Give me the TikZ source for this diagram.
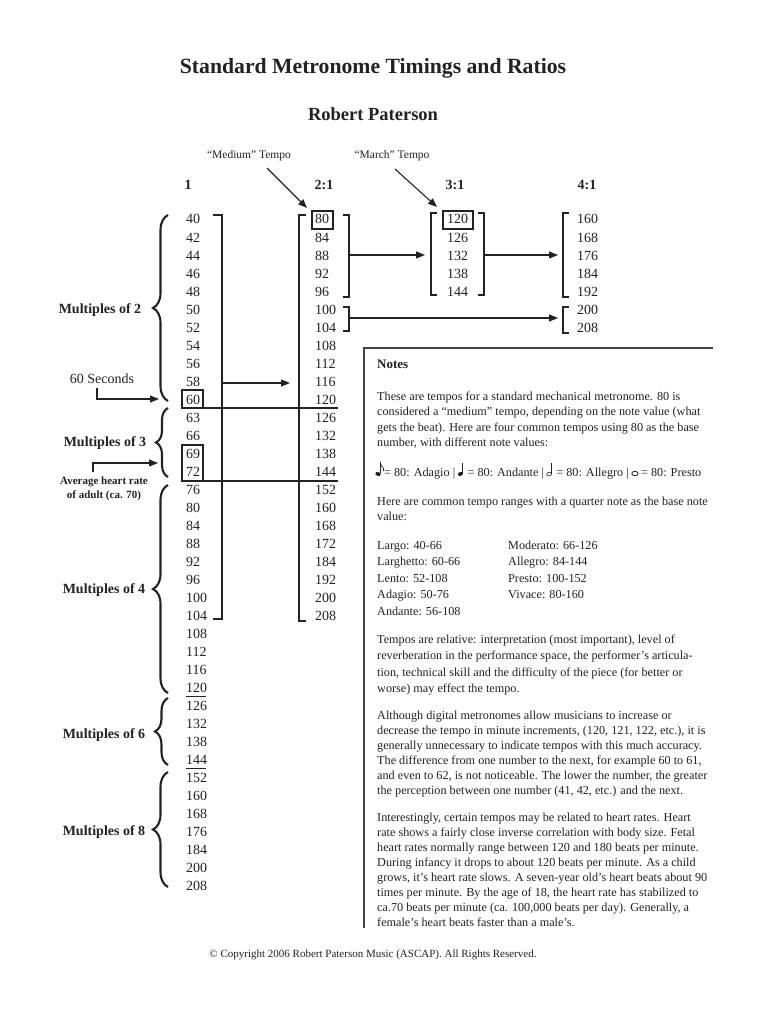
\documentclass[tikz,border=0pt]{standalone}
\usepackage{fontspec}
\setmainfont{Liberation Serif}
\usetikzlibrary{arrows.meta,decorations.pathreplacing}
\definecolor{ink}{HTML}{222222}
\definecolor{boxgray}{HTML}{444444}
\begin{document}
\begin{tikzpicture}[x=1pt,y=-1pt,
  every node/.style={inner sep=0pt,text=ink},
  num/.style={font=\fontsize{14}{16}\selectfont,anchor=base west},
  hdr/.style={font=\bfseries\fontsize{14}{16}\selectfont,anchor=base},
  lab/.style={font=\bfseries\fontsize{14}{16}\selectfont,anchor=base},
  brk/.style={line width=1.2pt,draw=ink},
  sep/.style={line width=1.4pt,draw=ink},
  hbox/.style={line width=1.2pt,draw=ink},
  arr/.style={line width=1.1pt,draw=ink,-{Triangle[length=9pt,width=7pt]}},
  brc/.style={decorate,decoration={brace,amplitude=15pt},line width=2.1pt,draw=ink},
  notes/.style={font=\fontsize{12.2}{15.5}\selectfont,anchor=base west},
]
\useasboundingbox[fill=white] (0,0) rectangle (768,1024);

% title
\node[anchor=base,font=\bfseries\fontsize{21.7}{24}\selectfont] (title) at (373,74) {Standard Metronome Timings and Ratios};
\node[anchor=base,font=\bfseries\fontsize{18.5}{21}\selectfont] (author) at (373,121) {Robert Paterson};

% tempo labels
\node[anchor=base,font=\fontsize{11.5}{13}\selectfont] (medium) at (249,159) {“Medium” Tempo};
\node[anchor=base,font=\fontsize{11.5}{13}\selectfont] (march) at (392,159) {“March” Tempo};

% headers
\node[hdr] (h1) at (188,190) {1};
\node[hdr] (h2) at (324,190) {2:1};
\node[hdr] (h3) at (455,190) {3:1};
\node[hdr] (h4) at (587,190) {4:1};

% column 1
\foreach \v [count=\i from 0] in {40,42,44,46,48,50,52,54,56,58,60,63,66,69,72,76,80,84,88,92,96,100,104,108,112,116,120,126,132,138,144,152,160,168,176,184,200,208}
  \node[num] (ca\i) at (186,224+18*\i) {\v};
% column 2
\foreach \v [count=\i from 0] in {80,84,88,92,96,100,104,108,112,116,120,126,132,138,144,152,160,168,172,184,192,200,208}
  \node[num] (cb\i) at (315,224+18*\i) {\v};
% column 3
\foreach \v [count=\i from 0] in {120,126,132,138,144}
  \node[num] (cc\i) at (447,224+18*\i) {\v};
% column 4
\foreach \v [count=\i from 0] in {160,168,176,184,192,200,208}
  \node[num] (cd\i) at (577,224+18*\i) {\v};

% boxes
\draw[hbox] (182,390) rectangle (203,408);
\draw[hbox] (182,445) rectangle (203,481);
\draw[hbox] (312,211) rectangle (333,229);
\draw[hbox] (443,211) rectangle (473,229);

% separator lines
\draw[sep] (182,408) -- (338,408);
\draw[sep] (182,481) -- (338,481);
\draw[line width=0.8pt,draw=ink] (186,696) -- (206,696);
\draw[line width=0.8pt,draw=ink] (186,768) -- (206,768);

% brackets
\draw[brk] (213,215) -- (222,215) -- (222,619) -- (213,619);
\draw[brk] (306,215) -- (299,215) -- (299,621) -- (306,621);
\draw[brk] (343,215) -- (349,215) -- (349,297) -- (343,297);
\draw[brk] (343,307) -- (349,307) -- (349,331) -- (343,331);
\draw[brk] (437,213) -- (431,213) -- (431,295) -- (437,295);
\draw[brk] (478,213) -- (484,213) -- (484,295) -- (478,295);
\draw[brk] (569,213) -- (563,213) -- (563,297) -- (569,297);
\draw[brk] (569,307) -- (563,307) -- (563,333) -- (569,333);

% bracket anchor coordinates
\coordinate (b2a) at (349,255);
\coordinate (b3l) at (425,255);
\coordinate (b3r) at (484,255);
\coordinate (b4a) at (558,255);
\coordinate (b2b) at (349,318);
\coordinate (b4b) at (558,318);
\coordinate (b1) at (222,383);
\coordinate (b2l) at (290,383);

\draw[arr] (b2a) -- (b3l);
\draw[arr] (b3r) -- (b4a);
\draw[arr] (b2b) -- (b4b);
\draw[arr] (b1) -- (b2l);

% pointer arrows
\coordinate (medtail) at (267,168);
\coordinate (medtip) at (307,208);
\coordinate (martail) at (395,169);
\coordinate (martip) at (437,207);
\draw[arr] (medtail) -- (medtip);
\draw[arr] (martail) -- (martip);

% braces
\draw[brc] (168,401) -- (168,215);
\draw[brc,decoration={brace,amplitude=12pt}] (168,477) -- (168,408);
\draw[brc] (168,693) -- (168,485);
\draw[brc,decoration={brace,amplitude=13pt}] (168,765) -- (168,698);
\draw[brc] (168,887) -- (168,772);

% left labels
\node[lab] (m2) at (100,313) {Multiples of 2};
\node[lab] (m3) at (105,446) {Multiples of 3};
\node[lab] (m4) at (104,593) {Multiples of 4};
\node[lab] (m6) at (104,738) {Multiples of 6};
\node[lab] (m8) at (104,835) {Multiples of 8};

\node[anchor=base,font=\fontsize{14}{16}\selectfont] (sixty) at (102,383) {60 Seconds};
\coordinate (sixtytail) at (97,388);
\coordinate (sixtytip) at (159,399);
\draw[arr] (sixtytail) |- (sixtytip);

\node[anchor=base,font=\bfseries\fontsize{11}{14}\selectfont] (avg) at (104,484) {Average heart rate};
\node[anchor=base,font=\bfseries\fontsize{11}{14}\selectfont] (avg2) at (104,498) {of adult (ca. 70)};
\coordinate (avgtail) at (93,472);
\coordinate (avgtip) at (158,463);
\draw[arr] (avgtail) |- (avgtip);

% notes box
\draw[line width=1.5pt,draw=boxgray] (713,348) -- (364,348) -- (364,928);
\node[anchor=base west,font=\bfseries\fontsize{13}{15}\selectfont] (notestitle) at (377,368) {Notes};

\node[notes] (p1) at (377,400) {\parbox[t]{360pt}{These are tempos for a standard mechanical metronome. 80 is\\
considered a “medium” tempo, depending on the note value (what\\
gets the beat). Here are four common tempos using 80 as the base\\
number, with different note values:}};

% note values line
\node[notes] (q1) at (384,476) {= 80: Adagio |};
\node[notes] (q2) at ([xshift=12pt]q1.base east) {= 80: Andante |};
\node[notes] (q3) at ([xshift=12pt]q2.base east) {= 80: Allegro |};
\node[notes] (q4) at ([xshift=12pt]q3.base east) {= 80: Presto};
% eighth note
\fill[ink,rotate around={-20:(378,474)}] (378,474) ellipse (2.7 and 1.9);
\draw[ink,line width=0.7pt] (380.4,473.5) -- (380.4,463) .. controls (381,467) and (384.5,467) .. (383.5,471);
% quarter note
\coordinate (qh) at ([xshift=5pt,yshift=2pt]q1.base east);
\fill[ink,rotate around={20:(qh)}] (qh) ellipse (2.7pt and 1.9pt);
\draw[ink,line width=0.7pt] ([xshift=2.4pt,yshift=0.5pt]qh) -- ([xshift=2.4pt,yshift=11pt]qh);
% half note
\coordinate (hh) at ([xshift=5pt,yshift=2pt]q2.base east);
\draw[ink,line width=0.6pt,rotate around={20:(hh)}] (hh) ellipse (2.6pt and 1.8pt);
\draw[ink,line width=0.7pt] ([xshift=2.4pt,yshift=0.5pt]hh) -- ([xshift=2.4pt,yshift=11pt]hh);
% whole note
\coordinate (wh) at ([xshift=6pt,yshift=2.5pt]q3.base east);
\draw[ink,line width=0.8pt] (wh) ellipse (3.2pt and 2.2pt);

\node[notes] (p2) at (377,505) {\parbox[t]{360pt}{Here are common tempo ranges with a quarter note as the base note\\
value:}};

\node[notes,font=\fontsize{12.2}{16.5}\selectfont] (p3a) at (377,549) {\parbox[t]{130pt}{Largo: 40-66\\ Larghetto: 60-66\\ Lento: 52-108\\ Adagio: 50-76\\ Andante: 56-108}};
\node[notes,font=\fontsize{12.2}{16.5}\selectfont] (p3b) at (508,549) {\parbox[t]{130pt}{Moderato: 66-126\\ Allegro: 84-144\\ Presto: 100-152\\ Vivace: 80-160}};

\node[notes,font=\fontsize{12.2}{16.5}\selectfont] (p4) at (377,643) {\parbox[t]{360pt}{Tempos are relative: interpretation (most important), level of\\
reverberation in the performance space, the performer’s articula-\\
tion, technical skill and the difficulty of the piece (for better or\\
worse) may effect the tempo.}};

\node[notes,font=\fontsize{12.2}{15}\selectfont] (p5) at (377,719) {\parbox[t]{360pt}{Although digital metronomes allow musicians to increase or\\
decrease the tempo in minute increments, (120, 121, 122, etc.), it is\\
generally unnecessary to indicate tempos with this much accuracy.\\
The difference from one number to the next, for example 60 to 61,\\
and even to 62, is not noticeable. The lower the number, the greater\\
the perception between one number (41, 42, etc.) and the next.}};

\node[notes,font=\fontsize{12.2}{15}\selectfont] (p6) at (377,821) {\parbox[t]{360pt}{Interestingly, certain tempos may be related to heart rates. Heart\\
rate shows a fairly close inverse correlation with body size. Fetal\\
heart rates normally range between 120 and 180 beats per minute.\\
During infancy it drops to about 120 beats per minute. As a child\\
grows, it’s heart rate slows. A seven-year old's heart beats about 90\\
times per minute. By the age of 18, the heart rate has stabilized to\\
ca.70 beats per minute (ca. 100,000 beats per day). Generally, a\\
female’s heart beats faster than a male’s.}};

% copyright
\node[anchor=base,font=\fontsize{11}{13}\selectfont] (copy) at (373,957) {© Copyright 2006 Robert Paterson Music (ASCAP). All Rights Reserved.};
\end{tikzpicture}
\end{document}
